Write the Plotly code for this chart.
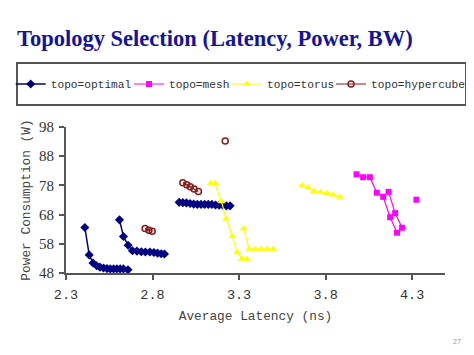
import plotly.graph_objects as go

# ---- data ----
optimal_x = [2.409, 2.434, 2.456, 2.477, 2.496, 2.517, 2.537, 2.556, 2.575, 2.594, 2.613, 2.632, 2.658,
             None,
             2.609, 2.632, 2.659, 2.684, 2.710, 2.735, 2.759, 2.785, 2.808, 2.829, 2.850, 2.869,
             None,
             2.954, 2.975, 2.996, 3.017, 3.038, 3.059, 3.080, 3.101, 3.122, 3.143, 3.164, 3.185, 3.206, 3.227, 3.248]
optimal_y = [63.6, 54.2, 51.4, 50.5, 50.0, 49.7, 49.5, 49.4, 49.4, 49.4, 49.4, 49.4, 49.1,
             None,
             66.2, 60.5, 57.5, 55.6, 55.5, 55.3, 55.2, 55.2, 55.0, 54.8, 54.6, 54.5,
             None,
             72.2, 72.1, 72.0, 71.8, 71.6, 71.5, 71.5, 71.5, 71.5, 71.5, 71.3, 71.2, 71.2, 71.0, 71.0]

mesh_x = [3.979, 4.017, 4.056, 4.096, 4.133, 4.173, 4.213, 4.242, 4.202, 4.164, None, 4.325]
mesh_y = [81.8, 80.8, 80.8, 75.5, 74.1, 67.1, 61.8, 63.5, 68.5, 75.8, None, 73.1]

torus_x = [3.137, 3.160, 3.198, 3.225, 3.261, 3.290, 3.317, 3.346,
           None,
           3.327, 3.359, 3.394, 3.429, 3.463, 3.498,
           None,
           3.665, 3.700, 3.734, 3.771, 3.808, 3.844, 3.883]
torus_y = [78.7, 78.7, 72.5, 66.6, 60.6, 55.0, 52.8, 52.8,
           None,
           63.2, 56.2, 56.2, 56.2, 56.2, 56.2,
           None,
           78.0, 77.2, 76.0, 75.7, 75.3, 74.8, 74.0]

hyper_x = [2.757, 2.779, 2.798, None, 2.975, 2.998, 3.018, 3.040, 3.065, None, 3.220]
hyper_y = [63.2, 62.6, 62.3, None, 78.9, 78.2, 77.5, 76.8, 75.9, None, 93.2]

series_names = ["topo=optimal", "topo=mesh", "topo=torus", "topo=hypercube"]
x_ticks = [2.3, 2.8, 3.3, 3.8, 4.3]
y_ticks = [48, 58, 68, 78, 88, 98]

# page body has an 8px margin; figure is sized to fill the rest of the window
W, H = 466, 347
L, R, T, B = 58, 29, 119, 82
pw, ph = W - L - R, H - T - B

fig = go.Figure()
fig.add_trace(go.Scatter(x=optimal_x, y=optimal_y, mode="lines+markers", name=series_names[0],
                         legend="legend",
                         line=dict(color="#000080", width=1.5),
                         marker=dict(symbol="diamond", size=7, color="#000080")))
fig.add_trace(go.Scatter(x=mesh_x, y=mesh_y, mode="lines+markers", name=series_names[1],
                         legend="legend2",
                         line=dict(color="#FF00FF", width=1.2),
                         marker=dict(symbol="square", size=6, color="#FF00FF")))
fig.add_trace(go.Scatter(x=torus_x, y=torus_y, mode="lines+markers", name=series_names[2],
                         legend="legend3",
                         line=dict(color="#FFFF00", width=1.2),
                         marker=dict(symbol="triangle-up", size=7, color="#FFFF00")))
fig.add_trace(go.Scatter(x=hyper_x, y=hyper_y, mode="lines+markers", name=series_names[3],
                         legend="legend4",
                         line=dict(color="#8B1A1A", width=1.2),
                         marker=dict(symbol="circle-open", size=6, color="#8B1A1A",
                                     line=dict(width=1.5, color="#8B1A1A"))))

axis_common = dict(showgrid=False, zeroline=False, showline=True, linecolor="#555555", linewidth=2,
                   ticks="outside", ticklen=5, tickwidth=2, tickcolor="#555555")

legend_font = dict(family="Liberation Mono", size=11.2, color="#333333")
text_starts = [42.7, 161, 259, 363]


def leg(xs):
    return dict(orientation="h", xref="container", yref="container",
                x=(xs - 40) / W, xanchor="left", y=1 - 76 / H, yanchor="middle",
                bgcolor="rgba(0,0,0,0)", borderwidth=0, font=legend_font)


fig.update_layout(
    width=W, height=H,
    margin=dict(l=L, r=R, t=T, b=B, autoexpand=False),
    paper_bgcolor="white", plot_bgcolor="white",
    title=dict(text="<b>Topology Selection (Latency, Power, BW)</b>",
               font=dict(family="Liberation Serif", size=22.5, color="#14149B"),
               xref="container", yref="container", x=9 / W, xanchor="left",
               y=1 - 30 / H, yanchor="middle", automargin=False),
    xaxis=dict(range=[2.3, 4.49], tickvals=x_ticks, ticktext=[str(v) for v in x_ticks],
               tickfont=dict(family="Liberation Mono", size=13.5, color="#333333"),
               ticklabelstandoff=3,
               title=dict(text="Average Latency (ns)", standoff=9,
                          font=dict(family="Liberation Mono", size=12.8, color="#444444")),
               **axis_common),
    yaxis=dict(range=[48, 98], tickvals=y_ticks,
               tickfont=dict(family="Liberation Serif", size=15, color="#333333"),
               ticklabelstandoff=2,
               title=dict(text="Power Consumption (W)", standoff=6,
                          font=dict(family="Liberation Mono", size=12.8, color="#444444")),
               **axis_common),
    showlegend=True,
    legend=leg(text_starts[0]),
    legend2=leg(text_starts[1]),
    legend3=leg(text_starts[2]),
    legend4=leg(text_starts[3]),
    shapes=[dict(type="rect", xref="paper", yref="paper",
                 x0=(9 - L) / pw, x1=(458 - L) / pw,
                 y0=(H - B - 97) / ph, y1=(H - B - 55) / ph,
                 line=dict(color="#555555", width=2), layer="below")],
    annotations=[dict(text="27", xref="paper", yref="paper",
                      x=(455 - L) / pw, y=(H - B - 340) / ph,
                      showarrow=False, font=dict(size=7, color="#999999"))],
)

fig.write_html("out.html")
